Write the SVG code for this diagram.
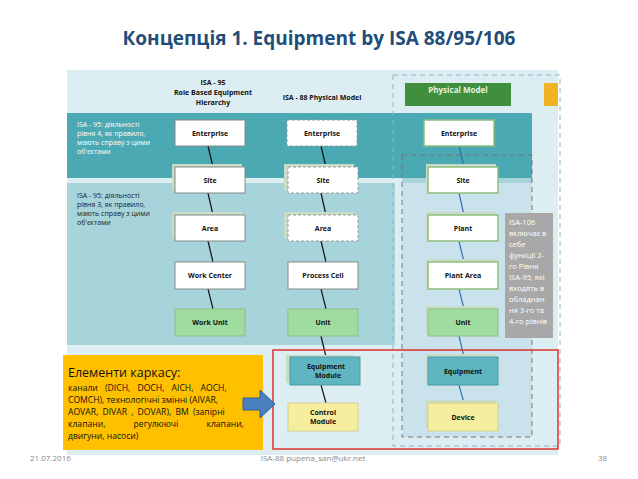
<svg xmlns="http://www.w3.org/2000/svg" width="638" height="479" viewBox="0 0 638 479">
<style>
text{font-family:"Open Sans","Liberation Sans",sans-serif}
.b{font-size:7px;font-weight:bold;text-anchor:middle;fill:#111}
.w{fill:#fff;stroke:#888;stroke-width:1}
.wd{fill:#fff;stroke:#999;stroke-dasharray:3 2}
.wg{fill:#fff;stroke:#8cbf7e;stroke-width:1.5}
.g{fill:#9fdc9f;stroke:#8cbf7e}
.t{fill:#5fb5c0;stroke:#4a9aa6}
.y{fill:#f5ee9e;stroke:#d8d090}
.sh{fill:#c8dcc8}
.ln{stroke:#111;stroke-width:1.2}
.lb{stroke:#3a6fb0;stroke-width:1.2}
.note{font-size:7px;fill:#fff}
</style>
<rect width="638" height="479" fill="#fff"/>
<text x="319" y="45" font-size="19" font-weight="bold" fill="#1f4e79" text-anchor="middle">Концепція 1. Equipment by ISA 88/95/106</text>
<rect x="67" y="70" width="491" height="385" fill="#ddeef3"/>
<rect x="67" y="113" width="465" height="65" fill="#4ba9b4"/>
<rect x="67" y="183" width="328" height="162" fill="#a6d4da"/>
<rect x="402" y="178" width="130" height="5" fill="#a6d4da"/>
<rect x="402" y="183" width="130" height="254" fill="#c9e2ec"/>
<rect x="393" y="75" width="167" height="371" fill="none" stroke="#8ab6cf" stroke-dasharray="5 4"/>
<rect x="402" y="155" width="130" height="282" fill="none" stroke="#777" stroke-dasharray="5 4"/>
<text x="213" y="85" class="b" font-size="8">ISA - 95</text>
<text x="213" y="95" class="b" font-size="8">Role Based Equipment</text>
<text x="213" y="105" class="b" font-size="8">Hierarchy</text>
<text x="322" y="100" class="b" font-size="8">ISA - 88 Physical Model</text>
<rect x="405" y="83" width="106" height="23" fill="#3f8f3c"/>
<text x="458" y="93" font-size="8" font-weight="bold" fill="#e8f3e0" text-anchor="middle">Physical Model</text>
<rect x="544" y="83" width="14" height="23" fill="#f0b323"/>
<text x="77" y="127" class="note">ISA - 95: діяльності</text>
<text x="77" y="136" class="note">рівня 4, як правило,</text>
<text x="77" y="145" class="note">мають справу з цими</text>
<text x="77" y="154" class="note">об'єктами</text>
<text x="77" y="198" font-size="7" fill="#222">ISA - 95: діяльності</text>
<text x="77" y="207" font-size="7" fill="#222">рівня 3, як правило,</text>
<text x="77" y="216" font-size="7" fill="#222">мають справу з цими</text>
<text x="77" y="225" font-size="7" fill="#222">об'єктами</text>
<g id="connectors">
<line class="ln" x1="208" y1="146" x2="213" y2="167"/><line class="ln" x1="208" y1="193" x2="213" y2="215"/>
<line class="ln" x1="208" y1="241" x2="213" y2="262"/><line class="ln" x1="208" y1="289" x2="213" y2="309"/>
<line class="ln" x1="321" y1="146" x2="326" y2="167"/><line class="ln" x1="321" y1="193" x2="326" y2="215"/>
<line class="ln" x1="321" y1="241" x2="326" y2="262"/><line class="ln" x1="321" y1="289" x2="326" y2="309"/>
<line class="ln" x1="321" y1="336" x2="326" y2="357"/><line class="ln" x1="321" y1="385" x2="326" y2="403"/>
<line class="lb" x1="459" y1="146" x2="464" y2="167"/><line class="lb" x1="459" y1="193" x2="464" y2="215"/>
<line class="lb" x1="459" y1="241" x2="464" y2="262"/><line class="lb" x1="459" y1="289" x2="464" y2="309"/>
<line class="lb" x1="459" y1="336" x2="464" y2="357"/><line class="lb" x1="459" y1="385" x2="464" y2="403"/>
</g>
<g id="n-ent1"><rect class="w" x="175" y="120" width="70" height="26"/><text class="b" x="210" y="136">Enterprise</text></g>
<g id="n-site1"><rect class="sh" x="172" y="164" width="70" height="26"/><rect class="w" x="175" y="167" width="70" height="26"/><text class="b" x="210" y="183">Site</text></g>
<g id="n-area1"><rect class="sh" x="172" y="212" width="70" height="26"/><rect class="w" x="175" y="215" width="70" height="26"/><text class="b" x="210" y="231">Area</text></g>
<g id="n-wc"><rect class="w" x="175" y="262" width="70" height="27"/><text class="b" x="210" y="278">Work Center</text></g>
<g id="n-wu"><rect class="g" x="175" y="309" width="70" height="27"/><text class="b" x="210" y="325">Work Unit</text></g>
<g id="n-ent2"><rect class="wd" x="287" y="120" width="70" height="26"/><text class="b" x="322" y="136">Enterprise</text></g>
<g id="n-site2"><rect class="sh" x="284" y="164" width="70" height="26"/><rect class="wd" x="288" y="167" width="70" height="26"/><text class="b" x="323" y="183">Site</text></g>
<g id="n-area2"><rect class="sh" x="284" y="212" width="70" height="26"/><rect class="wd" x="288" y="215" width="70" height="26"/><text class="b" x="323" y="231">Area</text></g>
<g id="n-pc"><rect class="w" x="288" y="262" width="70" height="27"/><text class="b" x="323" y="278">Process Cell</text></g>
<g id="n-unit2"><rect class="g" x="288" y="309" width="70" height="27"/><text class="b" x="323" y="325">Unit</text></g>
<g id="n-em"><rect class="sh" x="286" y="355" width="68" height="28"/><rect class="t" x="290" y="357" width="70" height="28"/><text class="b" x="326" y="369">Equipment</text><text class="b" x="328" y="378">Module</text></g>
<g id="n-cm"><rect class="y" x="288" y="403" width="70" height="28"/><text class="b" x="323" y="415">Control</text><text class="b" x="323" y="424">Module</text></g>
<g id="n-ent3"><rect class="wg" x="424" y="120" width="70" height="26"/><text class="b" x="459" y="136">Enterprise</text></g>
<g id="n-site3"><rect class="sh" x="426" y="164" width="70" height="26"/><rect class="wg" x="428" y="167" width="70" height="26"/><text class="b" x="463" y="183">Site</text></g>
<g id="n-plant"><rect class="sh" x="426" y="212" width="70" height="26"/><rect class="wg" x="428" y="215" width="70" height="26"/><text class="b" x="463" y="231">Plant</text></g>
<g id="n-pa"><rect class="sh" x="426" y="259" width="70" height="27"/><rect class="wg" x="428" y="262" width="70" height="27"/><text class="b" x="463" y="278">Plant Area</text></g>
<g id="n-unit3"><rect class="sh" x="426" y="306" width="70" height="27"/><rect class="g" x="428" y="309" width="70" height="27"/><text class="b" x="463" y="325">Unit</text></g>
<g id="n-eq"><rect class="sh" x="426" y="354" width="70" height="28"/><rect class="t" x="428" y="357" width="70" height="28"/><text class="b" x="463" y="374">Equipment</text></g>
<g id="n-dev"><rect class="sh" x="426" y="400" width="70" height="28"/><rect class="y" x="428" y="403" width="70" height="28"/><text class="b" x="463" y="420">Device</text></g>
<g id="n-isa106"><rect x="505" y="213" width="48" height="125" fill="#a8a8a8"/>
<g font-size="7.5" fill="#fff"><text x="509" y="225">ISA-106</text><text x="509" y="236">включає в</text><text x="509" y="247">себе</text><text x="509" y="258">функції 2-</text><text x="509" y="269">го Рівня</text><text x="509" y="280">ISA-95, які</text><text x="509" y="291">входять в</text><text x="509" y="302">обладнан</text><text x="509" y="313">ня 3-го та</text><text x="509" y="324">4-го рівнів</text></g></g>
<rect x="273" y="350" width="285" height="99" fill="none" stroke="#e03030" stroke-width="1.5"/>
<g id="n-frame"><rect x="63" y="355" width="200" height="95" fill="#ffc000"/>
<text x="68" y="377" font-size="12.5" fill="#111">Елементи каркасу:</text>
<g font-size="8.6" fill="#111"><text x="68" y="391" word-spacing="5">канали (DICH, DOCH, AICH, AOCH,</text><text x="68" y="403">COMCH), технологічні змінні (AIVAR,</text><text x="68" y="415" word-spacing="2">AOVAR, DIVAR , DOVAR), BM (запірні</text><text x="68" y="427" word-spacing="26">клапани, регулюючі клапани,</text><text x="68" y="439">двигуни, насоси)</text></g></g>
<path d="M243,398 H260 V390 L275,404 L260,418 V410 H243 Z" fill="#4a7fc0" stroke="#3060a0"/>
<g font-size="8" fill="#888"><text x="30" y="461">21.07.2016</text><text x="313" y="461" text-anchor="middle">ISA-88 pupena_san@ukr.net</text><text x="598" y="461">38</text></g>
</svg>
